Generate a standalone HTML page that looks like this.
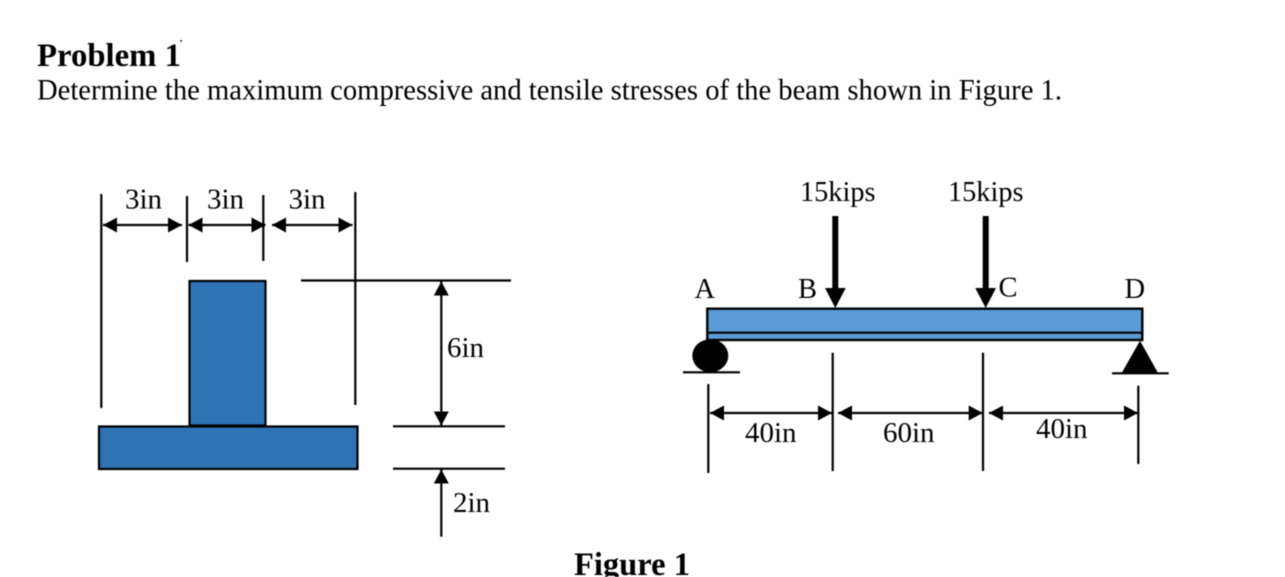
<!DOCTYPE html>
<html>
<head>
<meta charset="utf-8">
<style>
html,body{margin:0;padding:0;background:#fff;width:1285px;height:577px;overflow:hidden}
svg{display:block;filter:blur(0.5px)}
text{font-family:"Liberation Serif",serif;fill:#000}
.d{font-size:29px}
.l{font-size:28.5px}
line{stroke:#000;stroke-width:2.2}
</style>
</head>
<body>
<svg width="1285" height="577" viewBox="0 0 1285 577" xmlns="http://www.w3.org/2000/svg">
<defs>
<marker id="e" viewBox="0 0 14 15" refX="14" refY="7.5" markerWidth="14" markerHeight="15" markerUnits="userSpaceOnUse" orient="auto-start-reverse">
<path d="M0 0L14 7.5L0 15Z" fill="#000"/>
</marker>
</defs>

<text x="37" y="66" font-size="32.5" font-weight="bold" textLength="144" lengthAdjust="spacingAndGlyphs">Problem 1</text>
<rect x="180.3" y="40.2" width="1.6" height="1.6" fill="#000"/>
<text x="37" y="99.5" font-size="29.5" textLength="1025" lengthAdjust="spacingAndGlyphs">Determine the maximum compressive and tensile stresses of the beam shown in Figure 1.</text>

<!-- T section -->
<rect x="189.5" y="281" width="76" height="144.5" fill="#2e74b5" stroke="#000" stroke-width="2.2"/>
<rect x="99" y="426.5" width="258.5" height="42.5" fill="#2e74b5" stroke="#000" stroke-width="2.2"/>

<line x1="101.3" y1="194" x2="101.3" y2="408"/>
<line x1="187" y1="196" x2="187" y2="262"/>
<line x1="263.3" y1="195" x2="263.3" y2="261"/>
<line x1="355.3" y1="192" x2="355.3" y2="405"/>
<line x1="103" y1="225" x2="182" y2="225" marker-start="url(#e)" marker-end="url(#e)"/>
<line x1="188.5" y1="225" x2="265.5" y2="225" marker-start="url(#e)" marker-end="url(#e)"/>
<line x1="272" y1="225" x2="352.5" y2="225" marker-start="url(#e)" marker-end="url(#e)"/>

<line x1="301" y1="280.5" x2="511" y2="280.5"/>
<line x1="393" y1="426.3" x2="505" y2="426.3"/>
<line x1="393" y1="468.7" x2="505" y2="468.7"/>
<line x1="441.3" y1="281.5" x2="441.3" y2="425.5" marker-start="url(#e)" marker-end="url(#e)"/>
<line x1="441.3" y1="536.7" x2="441.3" y2="469.5" marker-end="url(#e)"/>

<text class="d" x="125" y="208.5">3in</text>
<text class="d" x="207" y="208.5">3in</text>
<text class="d" x="288.5" y="208.5">3in</text>
<text class="d" x="447" y="357">6in</text>
<text class="d" x="453" y="512">2in</text>

<!-- Beam -->
<rect x="707.3" y="308.7" width="435" height="31.3" fill="#5b9bd5" stroke="#000" stroke-width="2.4"/>
<line x1="707.3" y1="332.7" x2="1142.3" y2="332.7" stroke-width="2.4"/>

<ellipse cx="710.3" cy="355.7" rx="18" ry="16.5" fill="#000"/>
<line x1="683" y1="372.3" x2="740" y2="372.3"/>
<path d="M1140 340.7L1158 373H1121.7Z" fill="#000"/>
<line x1="1112" y1="373.3" x2="1168.7" y2="373.3"/>

<rect x="832.3" y="216" width="6" height="73" fill="#000"/>
<path d="M825 288H845.7L835.3 308Z" fill="#000"/>
<rect x="982.7" y="216" width="6" height="73" fill="#000"/>
<path d="M975.3 288H996L985.7 308Z" fill="#000"/>

<line x1="708.3" y1="384" x2="708.3" y2="473"/>
<line x1="832.7" y1="352.7" x2="832.7" y2="471"/>
<line x1="983" y1="352.7" x2="983" y2="471"/>
<line x1="1138.3" y1="385.7" x2="1138.3" y2="464"/>
<line x1="710" y1="413" x2="832" y2="413" marker-start="url(#e)" marker-end="url(#e)"/>
<line x1="838" y1="413" x2="982.7" y2="413" marker-start="url(#e)" marker-end="url(#e)"/>
<line x1="989" y1="413" x2="1138" y2="413" marker-start="url(#e)" marker-end="url(#e)"/>

<text class="d" x="800" y="201" textLength="75.5" lengthAdjust="spacingAndGlyphs">15kips</text>
<text class="d" x="948" y="201" textLength="75.5" lengthAdjust="spacingAndGlyphs">15kips</text>
<text class="l" x="694.5" y="298">A</text>
<text class="l" x="798" y="298">B</text>
<text class="l" x="998.5" y="296.5">C</text>
<text class="l" x="1124.5" y="298">D</text>
<text class="d" x="745" y="442">40in</text>
<text class="d" x="883" y="442">60in</text>
<text class="d" x="1036" y="438">40in</text>

<text x="574" y="575" font-size="32.4" font-weight="bold" textLength="116" lengthAdjust="spacingAndGlyphs">Figure 1</text>
</svg>
</body>
</html>
